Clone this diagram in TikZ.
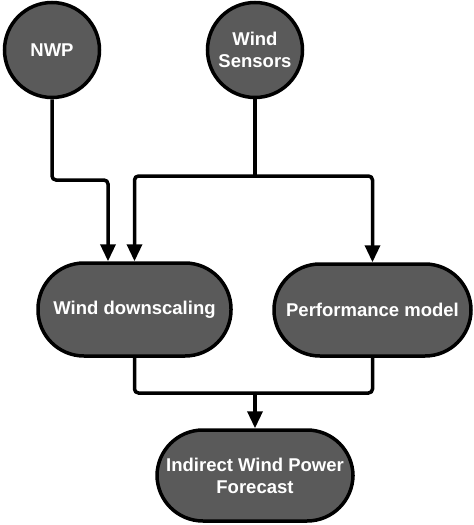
\documentclass[tikz,border=0pt]{standalone}
\usepackage{fontspec}
\setmainfont{Liberation Sans}
\usetikzlibrary{arrows.meta}
\definecolor{boxfill}{HTML}{5A5A5A}
\begin{document}
\begin{tikzpicture}[x=1pt,y=1pt,
  every node/.style={font=\fontsize{18.5}{22}\selectfont\bfseries, text=white, align=center},
  circ/.style={circle, draw=black, line width=3.5pt, fill=boxfill, minimum size=95pt, inner sep=0pt},
  pill/.style={rectangle, draw=black, line width=3.5pt, fill=boxfill, rounded corners=46pt, inner sep=0pt},
  conn/.style={draw=black, line width=3.5pt, rounded corners=4pt},
  arr/.style={conn, -{Triangle[length=17pt,width=15pt]}}]
\useasboundingbox (0,0) rectangle (474,-525);
\node[circ] (nwp) at (52,-50) {NWP};
\node[circ] (ws) at (255,-50) {Wind\\Sensors};
\node[pill, minimum width=193pt, minimum height=93pt] (wd) at (134.5,-309.5) {Wind downscaling};
\node[pill, minimum width=197pt, minimum height=92pt] (pm) at (372.5,-310) {Performance model};
\node[pill, minimum width=196pt, minimum height=91pt] (iwp) at (255,-475.5) {Indirect Wind Power\\Forecast};
\coordinate (sp) at (255,-176);
\coordinate (nb) at (52,-180);
\coordinate (jn) at (255,-393);
\draw[arr] (nwp.south) -- (nb) -| ([xshift=-26.5pt]wd.north);
\draw[conn] (ws.south) -- (sp);
\draw[arr] (sp) -| (wd.north);
\draw[arr] (sp) -| (pm.north);
\draw[conn] (wd.south) |- (jn);
\draw[conn] (pm.south) |- (jn);
\draw[arr] (jn) -- (iwp.north);
\end{tikzpicture}
\end{document}
